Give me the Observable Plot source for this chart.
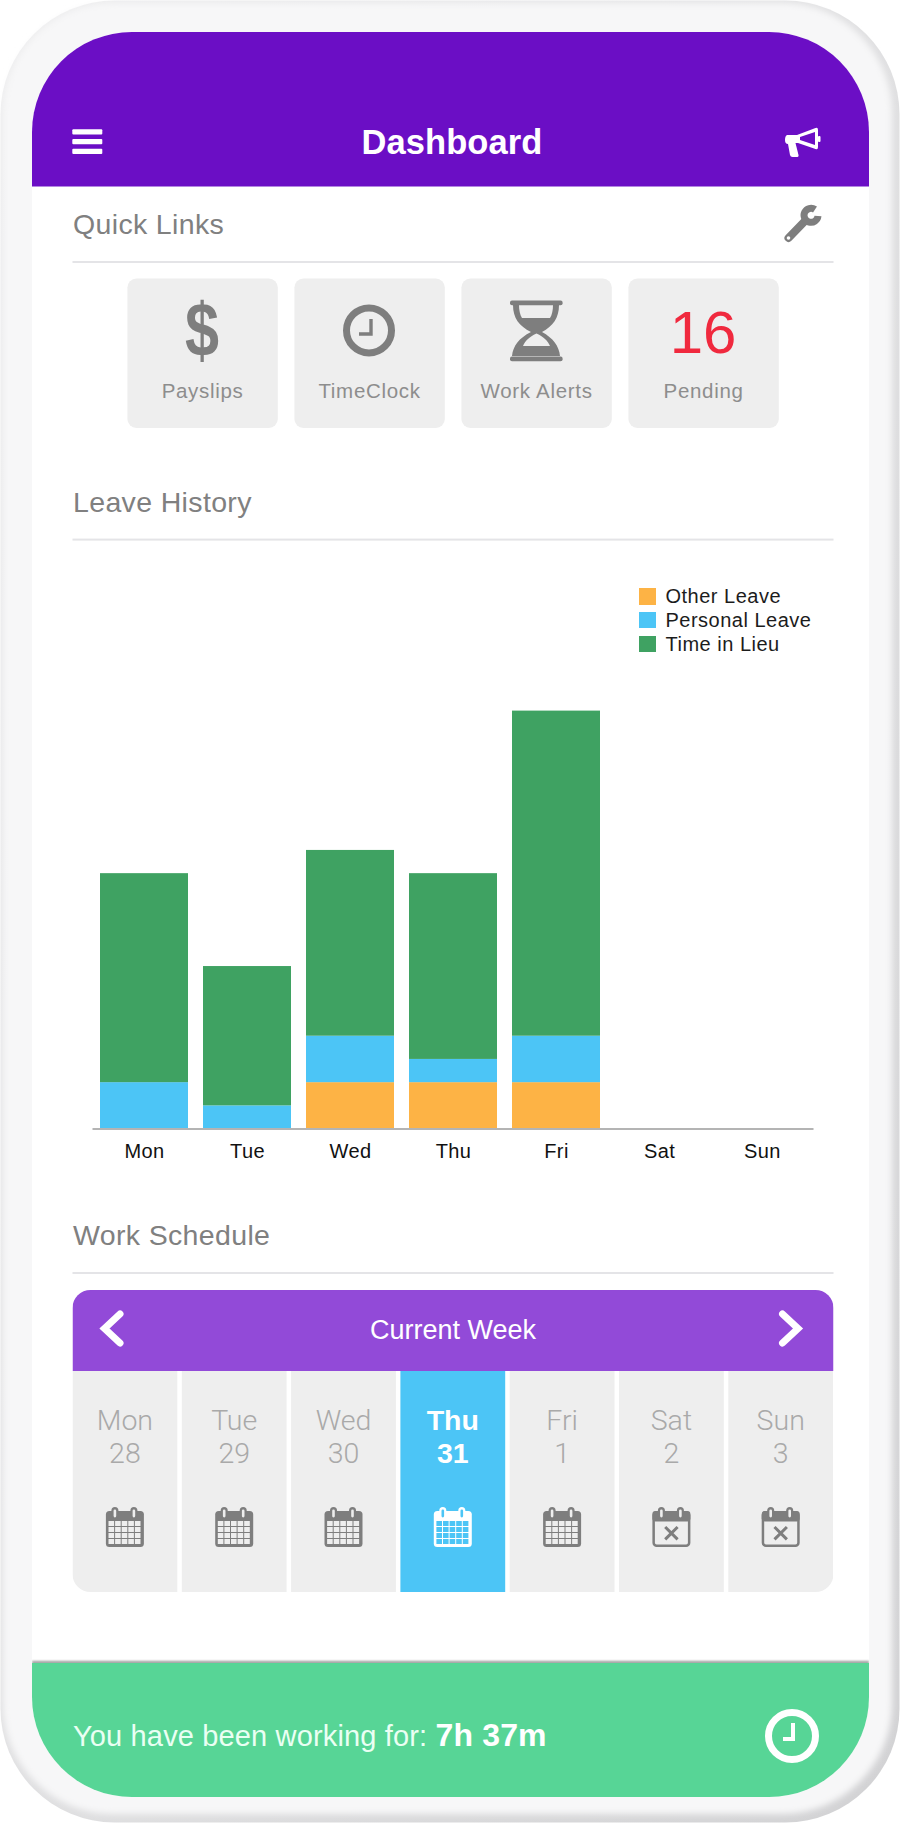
<!DOCTYPE html>
<html>
<head>
<meta charset="utf-8">
<script src="https://cdn.jsdelivr.net/npm/d3@7"></script>
<script src="https://cdn.jsdelivr.net/npm/@observablehq/plot@0.6"></script>
<style>
html,body{margin:0;padding:0;background:#fff}
#page{position:relative;width:900px;height:1823px;overflow:hidden;font-family:"Liberation Sans",Arial,sans-serif}
#phone{position:absolute;left:0;top:0}
#chart{position:absolute;left:0;top:660px}
#legend{position:absolute;left:639px;top:588px}
.lg{display:flex;align-items:center;height:16.5px;margin-bottom:7.4px;font-size:20px;letter-spacing:.5px;color:#1c1c1c}
.lg i{display:block;width:16.5px;height:16.5px;margin-right:10px}
</style>
</head>
<body>
<div id="page">
<svg id="phone" width="900" height="1823" viewBox="0 0 900 1823"></svg>
<div id="legend"></div>
<div id="chart"></div>
</div>
<script>
// ---- chart data (days of leave, stacked) ----
const days = ["Mon","Tue","Wed","Thu","Fri","Sat","Sun"];
const otherLeave = [0,0,1,1,1,0,0];
const personalLeave = [1,0.5,1,0.5,1,0,0];
const timeInLieu = [4.5,3,4,4,7,0,0];
const leaveTypes = ["Other Leave","Personal Leave","Time in Lieu"];
const leaveColors = ["#fdb345","#4cc5f6","#3fa262"];
const legendOrder = ["Other Leave","Personal Leave","Time in Lieu"];

// ---- other screen content ----
const quickLinks = ["Payslips","TimeClock","Work Alerts","Pending"];
const pendingCount = "16";
const scheduleDays = ["Mon","Tue","Wed","Thu","Fri","Sat","Sun"];
const scheduleDates = ["28","29","30","31","1","2","3"];
const scheduleOff = [false,false,false,false,false,true,true];
const currentDay = 3;

const rows = days.flatMap((day,i)=>[
  {day,type:leaveTypes[0],value:otherLeave[i]},
  {day,type:leaveTypes[1],value:personalLeave[i]},
  {day,type:leaveTypes[2],value:timeInLieu[i]}
]);

const chart = Plot.plot({
  width:900,height:520,
  marginLeft:92.5,marginRight:86.5,marginTop:50.6,marginBottom:51.4,
  style:{background:"transparent",fontFamily:'"Liberation Sans",Arial,sans-serif',overflow:"visible"},
  x:{domain:days,paddingInner:0.15,paddingOuter:0.075,axis:null},
  y:{domain:[0,9],axis:null},
  color:{domain:leaveTypes,range:leaveColors},
  marks:[
    Plot.barY(rows,Plot.stackY({order:leaveTypes,x:"day",y:"value",fill:"type"})),
    Plot.ruleY([0],{stroke:"#b4b4b4",strokeWidth:2}),
    Plot.axisX({anchor:"bottom",label:null,tickSize:0,tickPadding:15,fontSize:20,fill:"#111",
      tickFormat:d=>d,lineHeight:1})
  ]
});
document.getElementById("chart").append(chart);
chart.querySelectorAll('[aria-label="x-axis tick label"] text').forEach(t=>t.setAttribute("letter-spacing","0.4"));

const colorScale = chart.scale("color");
document.getElementById("legend").innerHTML = legendOrder.map(n=>
  `<div class="lg"><i style="background:${colorScale.apply(n)}"></i><span>${n}</span></div>`).join("");

// ---- phone screen ----
const G="#7e7e7e",TILE="#eeeeee";
function txt(x,y,s,size,fill,o={}){
  return `<text x="${x}" y="${y}" font-size="${size}" fill="${fill}" text-anchor="${o.a||"start"}" font-weight="${o.w||400}" font-family='${o.f||'"Liberation Sans",Arial,sans-serif'}' letter-spacing="${o.ls||0}"${o.t?` transform="${o.t}"`:""}>${s}</text>`;
}
function clock(cx,cy,r,sw,col,hand,hs){
  return `<circle cx="${cx}" cy="${cy}" r="${r}" fill="none" stroke="${col}" stroke-width="${sw}"/><path d="${hand}" fill="none" stroke="${col}" stroke-width="${hs}"/>`;
}
function cal(cx,y,col,cell,off){
  const x=cx-19;let s=`<g transform="translate(${x},${y})">`;
  if(off){
    s+=`<rect x="1.25" y="5.25" width="35.5" height="33.5" rx="3" fill="none" stroke="${col}" stroke-width="2.5"/><rect x="0" y="4" width="38" height="10.5" rx="3" fill="${col}"/>`;
    s+=`<path d="M12.8 20L25.2 32.4M25.2 20L12.8 32.4" stroke="${col}" stroke-width="3" fill="none"/>`;
  }else{
    s+=`<rect x="0" y="4" width="38" height="36" rx="3.5" fill="${col}"/>`;
    for(let r=0;r<4;r++)for(let c=0;c<5;c++)
      s+=`<rect x="${2.6+c*6.6}" y="${14+r*6}" width="5.6" height="5" fill="${cell}"/>`;
  }
  for(const rx of [9,28]) s+=`<rect x="${rx-3.5}" y="0" width="7" height="12" rx="3.5" fill="${col}"/><rect x="${rx-1.3}" y="2.4" width="2.6" height="8" rx="1.3" fill="${cell}"/>`;
  return s+`</g>`;
}
let s=`<defs>
<linearGradient id="shell" x1="0" x2="1" y1="0" y2="1"><stop offset="0" stop-color="#eeeeef"/><stop offset="1" stop-color="#d2d2d4"/></linearGradient>
<filter id="b" x="-5%" y="-5%" width="110%" height="110%"><feGaussianBlur stdDeviation="3"/></filter>
<filter id="b2" x="-5%" y="-50%" width="110%" height="200%"><feGaussianBlur stdDeviation="0.8"/></filter>
<clipPath id="scr"><rect x="32" y="32" width="837" height="1765" rx="100"/></clipPath>
<clipPath id="calBody"><rect x="72.5" y="1290" width="761" height="302" rx="18"/></clipPath>
</defs>`;
s+=`<rect x="0.5" y="0.5" width="899" height="1822" rx="114" fill="url(#shell)"/>`;
s+=`<rect x="3" y="3" width="889" height="1811" rx="110" fill="#f7f7f8" filter="url(#b)"/>`;
s+=`<rect x="32" y="32" width="837" height="1765" rx="100" fill="#fff"/>`;
s+=`<g clip-path="url(#scr)">`;
s+=`<rect x="32" y="32" width="837" height="154.5" fill="#6b0ec5"/>`;
s+=`<rect x="32" y="1661" width="837" height="3" fill="#9a9a9a" filter="url(#b2)"/>`;
s+=`<rect x="32" y="1663" width="837" height="134" fill="#57d596"/>`;
s+=`</g>`;
// header
s+=`<g fill="#fff"><rect x="72.3" y="129.3" width="30" height="5.2" rx="1"/><rect x="72.3" y="139" width="30" height="5.2" rx="1"/><rect x="72.3" y="148.7" width="30" height="5.2" rx="1"/></g>`;
s+=txt(452,153.6,"Dashboard",34.5,"#fff",{a:"middle",w:700,ls:.1});
s+=`<path fill="#fff" d="M787 135L797 135L815.5 128Q818 127 818 130L818 147Q818 150 815.5 149L798 143L795.5 143L798.5 155Q799 157 796.5 157L792.5 157Q790.5 157 790 155L788 144Q785 144 785 140Q785 136 787 135Z"/><path fill="#6b0ec5" d="M800 137L815 132L815 145L800 140Z"/><rect x="818" y="136" width="2.5" height="6" rx="1" fill="#fff"/>`;
// quick links
s+=txt(73,234,"Quick Links",28.5,"#808080",{ls:.35});
s+=`<path d="M788.5 238L804 222" stroke="${G}" stroke-width="8" stroke-linecap="round"/><path d="M815 209.5A7 7 0 1 0 818 216" stroke="${G}" stroke-width="7" fill="none"/><circle cx="788.5" cy="238" r="1.8" fill="#fff"/>`;
s+=`<rect x="72.5" y="261" width="761" height="2" fill="#e4e4e7"/>`;
quickLinks.forEach((q,i)=>{
  const x=127.4+i*167;
  s+=`<rect x="${x}" y="278.6" width="150.4" height="149.3" rx="9" fill="${TILE}"/>`;
  s+=txt(x+75.2,397.5,q,20.5,"#8d8d8d",{a:"middle",ls:.7});
});
s+=txt(0,0,"$",68,G,{a:"middle",w:700,t:"translate(202,355.7) scale(.9,1.13)"});
s+=clock(369,330.4,22.5,7,G,"M371 319V334H359",3.4);
s+=`<path fill="${G}" d="M513 305H559C559 318 553 326 542 332C553 338 559 346 560 356H512C513 346 519 338 531 332C519 326 513 318 513 305Z"/><path fill="${TILE}" d="M519 305H553C553 310 552 315 550 318H522C520 315 519 310 519 305ZM536.5 333.5C529 337 525 341 523 346H550C548 341 544 337 536.5 333.5Z"/><rect x="510" y="300.5" width="52.6" height="4.8" rx="2" fill="${G}"/><rect x="510" y="356.4" width="52.6" height="4.8" rx="2" fill="${G}"/>`;
s+=txt(703,352.5,pendingCount,60,"#f0293e",{a:"middle"});
// section headers
s+=txt(73,511.8,"Leave History",28.5,"#808080",{ls:.35});
s+=`<rect x="72.5" y="538.6" width="761" height="2" fill="#e4e4e7"/>`;
s+=txt(73,1244.5,"Work Schedule",28.5,"#808080",{ls:.35});
s+=`<rect x="72.5" y="1272" width="761" height="2" fill="#e4e4e7"/>`;
// calendar
s+=`<g clip-path="url(#calBody)"><rect x="72.5" y="1290" width="761" height="81" fill="#924ad8"/>`;
const LIGHT='Roboto,"Liberation Sans",sans-serif';
scheduleDays.forEach((d,i)=>{
  const x=72.5+i*109.3,cur=i===currentDay,cx=x+52.4;
  s+=`<rect x="${x}" y="1371" width="104.8" height="221" fill="${cur?"#4cc5f6":TILE}"/>`;
  const col=cur?"#fff":"#a9a9a9",o={a:"middle",w:cur?700:300,f:cur?'"Liberation Sans",Arial,sans-serif':LIGHT};
  s+=txt(cx,1430.4,d,28.5,col,o)+txt(cx,1463,scheduleDates[i],28.5,col,o);
  s+=cal(cx,1507,cur?"#fff":G,cur?"#4cc5f6":TILE,scheduleOff[i]);
});
s+=`</g>`;
s+=`<path d="M120 1314L104.5 1328.5L120 1343M782.5 1314L798 1328.5L782.5 1343" fill="none" stroke="#fff" stroke-width="7" stroke-linecap="round" stroke-linejoin="miter"/>`;
s+=txt(453,1339,"Current Week",27,"#fff",{a:"middle"});
// footer
s+=`<text x="73" y="1746" font-size="29" fill="#eafff3" font-family='"Liberation Sans",Arial,sans-serif' letter-spacing=".15">You have been working for: <tspan font-weight="700" font-size="32" fill="#fff">7h 37m</tspan></text>`;
s+=clock(792,1736,23.5,7,"#fff","M793 1723V1739H783",4);
document.getElementById("phone").innerHTML=s;
</script>
</body>
</html>
